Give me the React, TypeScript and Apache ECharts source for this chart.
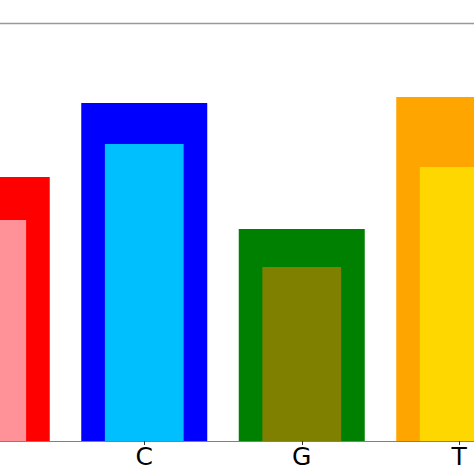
import React, { useEffect, useRef } from "react";
import * as echarts from "echarts";

const categories = ["A", "C", "G", "T"];
const outerValues = [26.4, 33.8, 21.2, 34.4];
const innerValues = [22.1, 29.7, 17.4, 27.4];
const outerColors = ["#ff0000", "#0000ff", "#008000", "#ffa500"];
const innerColors = ["#ff9199", "#00bfff", "#808000", "#ffd700"];
const yMax = 41.8;

export default function App() {
  const ref = useRef<HTMLDivElement>(null);
  useEffect(() => {
    const chart = echarts.init(ref.current!, null, { renderer: "svg" });
    chart.setOption({
      animation: false,
      backgroundColor: "#ffffff",
      grid: { left: 0, right: 0, top: 23, bottom: 33, containLabel: false },
      xAxis: [
        {
          type: "category",
          data: categories,
          position: "bottom",
          axisLine: { show: true, lineStyle: { color: "#808080", width: 1.2 } },
          axisTick: { show: true, alignWithLabel: true, length: 4, lineStyle: { color: "#333333", width: 1 } },
          axisLabel: { color: "#000000", fontSize: 25, fontFamily: "DejaVu Sans", margin: 3 },
          splitLine: { show: false },
        },
        {
          type: "category",
          data: categories,
          position: "top",
          axisLine: { show: true, lineStyle: { color: "#999999", width: 1.4 } },
          axisTick: { show: false },
          axisLabel: { show: false },
          splitLine: { show: false },
        },
      ],
      yAxis: {
        type: "value",
        min: 0,
        max: yMax,
        axisLine: { show: false },
        axisTick: { show: false },
        axisLabel: { show: false },
        splitLine: { show: false },
      },
      series: [
        {
          type: "bar",
          xAxisIndex: 0,
          barWidth: "80%",
          data: outerValues.map((v, i) => ({ value: v, itemStyle: { color: outerColors[i] } })),
          z: 2,
        },
        {
          type: "bar",
          xAxisIndex: 1,
          barWidth: "50%",
          data: innerValues.map((v, i) => ({ value: v, itemStyle: { color: innerColors[i] } })),
          z: 3,
        },
      ],
    });
    return () => chart.dispose();
  }, []);
  return (
    <div
      style={{ position: "fixed", left: 0, top: 0, width: 474, height: 474, overflow: "hidden", background: "#fff" }}
    >
      <div
        ref={ref}
        style={{ position: "absolute", left: -92.25, top: 0, width: 630, height: 474 }}
      />
    </div>
  );
}
